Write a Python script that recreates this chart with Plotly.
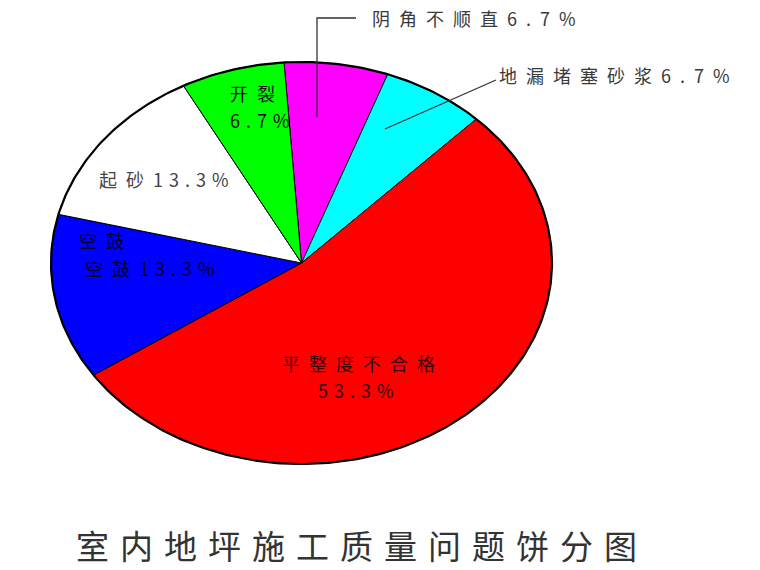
import numpy as np
import plotly.graph_objects as go

# ---- data (clockwise from the top) ----
categories = ["阴角不顺直", "地漏堵塞砂浆", "平整度不合格", "空鼓", "起砂", "开裂"]
values = [6.7, 6.7, 53.3, 13.3, 13.3, 6.7]
colors = ["#FF00FF", "#00FFFF", "#FF0000", "#0000FF", "#FFFFFF", "#00FF00"]
title_text = "室内地坪施工质量问题饼分图"

# ---- layout parameters (pixels) ----
W, H = 760, 570
CX, CY, RX, RY = 301.5, 263.0, 250.5, 201.0
START_DEG = 94.0
FONT = "Noto Sans CJK SC"


def spaced(s, sep="\u2002"):
    return sep.join(list(s))


def pct_text(v, sep="\u2002"):
    return spaced(f"{v:.1f}%", sep)


fig = go.Figure()

vals = np.array(values, dtype=float)
cum = np.concatenate([[0.0], np.cumsum(vals)]) / vals.sum()
for i, cat in enumerate(categories):
    t0 = np.deg2rad(START_DEG - 360 * cum[i])
    t1 = np.deg2rad(START_DEG - 360 * cum[i + 1])
    t = np.linspace(t0, t1, 120)
    xs = np.concatenate([[CX], CX + RX * np.cos(t), [CX]])
    ys = np.concatenate([[CY], CY - RY * np.sin(t), [CY]])
    fig.add_trace(go.Scatter(
        x=xs, y=ys, mode="lines", fill="toself", fillcolor=colors[i],
        line=dict(color="black", width=1), name=cat, hoverinfo="name",
        showlegend=False))

# ellipse outline
tt = np.linspace(0, 2 * np.pi, 400)
fig.add_trace(go.Scatter(x=CX + RX * np.cos(tt), y=CY - RY * np.sin(tt), mode="lines",
                         line=dict(color="black", width=2.2), hoverinfo="skip",
                         showlegend=False))

# ---- labels ----
lab = {c: v for c, v in zip(categories, values)}
annots = [
    # text, x, y, color, anchor
    (spaced("阴角不顺直") + "\u2002" + pct_text(lab["阴角不顺直"]), 370, 18, "#3a3a3a", "left"),
    (spaced("地漏堵塞砂浆") + "\u2002" + pct_text(lab["地漏堵塞砂浆"]), 497, 75, "#3a3a3a", "left"),
    (spaced("开裂"), 228, 93, "#111111", "left"),
    (pct_text(lab["开裂"], "\u2004"), 228, 120, "#111111", "left"),
    (spaced("起砂") + "\u2002" + pct_text(lab["起砂"], "\u2004"), 97, 179, "#444444", "left"),
    (spaced("空鼓"), 77, 240, "#000022", "left"),
    (spaced("空鼓") + "\u2002" + pct_text(lab["空鼓"], "\u2004"), 83, 268, "#000022", "left"),
    (spaced("平整度不合格"), 358, 363, "#330000", "center"),
    (pct_text(lab["平整度不合格"], "\u2004"), 356, 390, "#330000", "center"),
]
for text, x, y, col, anc in annots:
    fig.add_annotation(x=x, y=y, xref="x", yref="y", text=text, showarrow=False,
                       xanchor=anc, yanchor="middle", align=anc,
                       font=dict(family=FONT, size=18, color=col))

# title
fig.add_annotation(x=356, y=545, xref="x", yref="y", text=spaced(title_text, "\u2004"),
                   showarrow=False, xanchor="center", yanchor="middle",
                   font=dict(family=FONT, size=33, color="#333333"))

# leader lines
fig.add_shape(type="path", path="M 317 117 L 317 18 L 356 18", xref="x", yref="y",
              line=dict(color="#333333", width=1.3))
fig.add_shape(type="line", x0=385, y0=129, x1=496, y1=80, xref="x", yref="y",
              line=dict(color="#333333", width=1.3))

fig.update_layout(
    width=W, height=H, margin=dict(l=0, r=0, t=0, b=0),
    paper_bgcolor="white", plot_bgcolor="white", showlegend=False,
    xaxis=dict(range=[0, W], visible=False, fixedrange=True),
    yaxis=dict(range=[H, 0], visible=False, fixedrange=True),
)

fig.write_html("out.html", config={"displayModeBar": False},
               post_script="document.body.style.margin='0px';document.body.style.overflow='hidden';")
